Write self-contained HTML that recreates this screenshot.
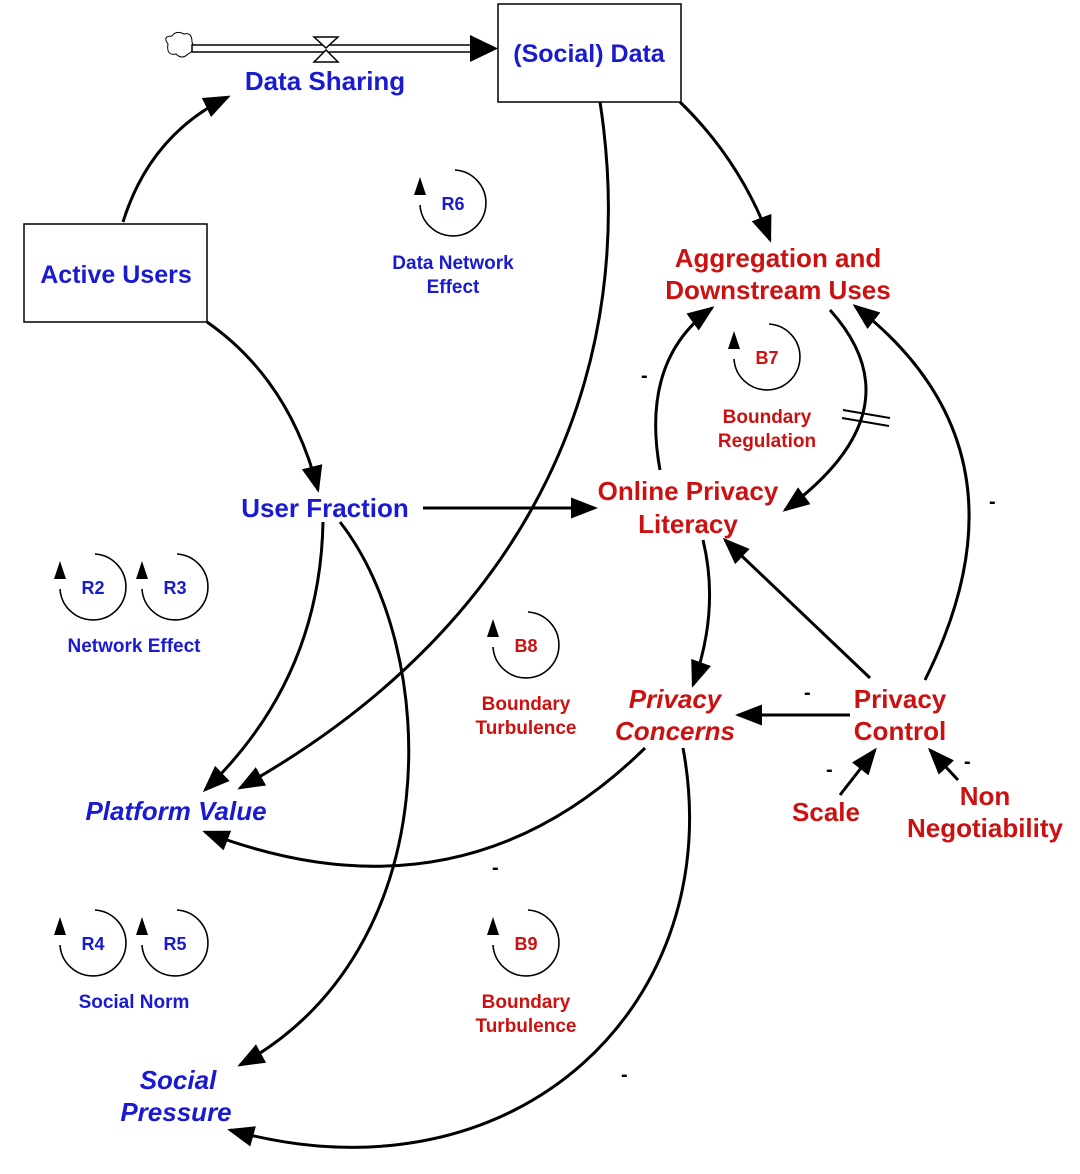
<!DOCTYPE html>
<html><head><meta charset="utf-8"><style>
html,body{margin:0;padding:0;background:#fff}
svg{display:block}
.b{fill:#1a1ad0;font-family:"Liberation Sans",sans-serif;font-weight:bold}
.r{fill:#cc1111;font-family:"Liberation Sans",sans-serif;font-weight:bold}
.ln{fill:none;stroke:#000;stroke-width:3;marker-end:url(#ah)}
.m{font-family:"Liberation Sans",sans-serif;font-weight:bold;font-size:20px;fill:#000}
</style></head><body>
<svg width="1080" height="1174" viewBox="0 0 1080 1174" xmlns="http://www.w3.org/2000/svg">
<defs>
<marker id="ah" markerWidth="9" markerHeight="7" refX="8" refY="3.5" orient="auto" markerUnits="strokeWidth">
<path d="M0,0 L9,3.5 L0,7 z" fill="#000"/></marker>
<g id="loop"><path d="M2,-33 A33,33 0 1 1 -33,2" fill="none" stroke="#000" stroke-width="1.6"/><path d="M-33,-26 L-39,-8 L-27,-8 z" fill="#000"/></g>
</defs>
<path d="M168,44 q-6,-8 4,-8 q4,-6 12,-2 q8,-2 8,8 q4,8 -4,12 q-6,6 -12,0 q-10,2 -8,-10z" fill="#fff" stroke="#000" stroke-width="1"/>
<rect x="192" y="45" width="280" height="7" fill="#fff" stroke="#000" stroke-width="1.5"/>
<path d="M470,35 L498,48.5 L470,62 z" fill="#000"/>
<path d="M314,37 L338,37 L326,48 z M314,62 L338,62 L326,50 z" fill="#fff" stroke="#000" stroke-width="1.5"/>
<text x="325" y="90" class="b" font-size="26" text-anchor="middle">Data Sharing</text>
<rect x="498" y="4" width="183" height="98" fill="#fff" stroke="#000" stroke-width="1.5"/>
<text x="589" y="62" class="b" font-size="25" text-anchor="middle">(Social) Data</text>
<rect x="24" y="224" width="183" height="98" fill="#fff" stroke="#000" stroke-width="1.5"/>
<text x="116" y="283" class="b" font-size="25" text-anchor="middle">Active Users</text>

<path class="ln" d="M123,222 Q150,135 228,97"/>
<path class="ln" d="M207,322 Q290,380 318,490"/>
<path class="ln" d="M600,102 C640,360 540,620 240,788"/>
<path class="ln" d="M680,102 Q740,160 770,240"/>
<path class="ln" d="M423,508 L595,508"/>
<path class="ln" d="M323,522 Q320,680 205,790"/>
<path class="ln" d="M340,522 C440,650 450,950 240,1065"/>
<path class="ln" d="M660,470 Q640,360 712,308"/>
<path class="ln" d="M830,310 Q920,410 785,510"/>
<path d="M843,410 L890,418 M842,418 L889,426" stroke="#000" stroke-width="2"/>
<path class="ln" d="M925,680 Q1040,450 855,306"/>
<path class="ln" d="M703,540 Q720,610 693,685"/>
<path class="ln" d="M870,678 L725,540"/>
<path class="ln" d="M850,715 L738,715"/>
<path class="ln" d="M840,795 L875,750"/>
<path class="ln" d="M958,780 L930,750"/>
<path class="ln" d="M645,748 Q460,930 205,832"/>
<path class="ln" d="M683,748 C730,1000 520,1210 230,1130"/>

<g class="m"><text x="641" y="382">-</text><text x="989" y="508">-</text><text x="804" y="699">-</text><text x="826" y="776">-</text><text x="964" y="768">-</text><text x="492" y="874">-</text><text x="621" y="1081">-</text></g>

<use href="#loop" x="453" y="203"/><text x="453" y="210" class="b" font-size="18" text-anchor="middle">R6</text>
<text x="453" y="269" class="b" font-size="19" text-anchor="middle">Data Network</text>
<text x="453" y="293" class="b" font-size="19" text-anchor="middle">Effect</text>
<use href="#loop" x="767" y="357"/><text x="767" y="364" class="r" font-size="18" text-anchor="middle">B7</text>
<text x="767" y="423" class="r" font-size="19" text-anchor="middle">Boundary</text>
<text x="767" y="447" class="r" font-size="19" text-anchor="middle">Regulation</text>
<use href="#loop" x="93" y="587"/><text x="93" y="594" class="b" font-size="18" text-anchor="middle">R2</text>
<use href="#loop" x="175" y="587"/><text x="175" y="594" class="b" font-size="18" text-anchor="middle">R3</text>
<text x="134" y="652" class="b" font-size="19" text-anchor="middle">Network Effect</text>
<use href="#loop" x="526" y="645"/><text x="526" y="652" class="r" font-size="18" text-anchor="middle">B8</text>
<text x="526" y="710" class="r" font-size="19" text-anchor="middle">Boundary</text>
<text x="526" y="734" class="r" font-size="19" text-anchor="middle">Turbulence</text>
<use href="#loop" x="93" y="943"/><text x="93" y="950" class="b" font-size="18" text-anchor="middle">R4</text>
<use href="#loop" x="175" y="943"/><text x="175" y="950" class="b" font-size="18" text-anchor="middle">R5</text>
<text x="134" y="1008" class="b" font-size="19" text-anchor="middle">Social Norm</text>
<use href="#loop" x="526" y="943"/><text x="526" y="950" class="r" font-size="18" text-anchor="middle">B9</text>
<text x="526" y="1008" class="r" font-size="19" text-anchor="middle">Boundary</text>
<text x="526" y="1032" class="r" font-size="19" text-anchor="middle">Turbulence</text>

<text x="778" y="267" class="r" font-size="26" text-anchor="middle">Aggregation and</text>
<text x="778" y="299" class="r" font-size="26" text-anchor="middle">Downstream Uses</text>
<text x="325" y="517" class="b" font-size="26" text-anchor="middle">User Fraction</text>
<text x="688" y="500" class="r" font-size="26" text-anchor="middle">Online Privacy</text>
<text x="688" y="533" class="r" font-size="26" text-anchor="middle">Literacy</text>
<text x="675" y="708" class="r" font-size="26" text-anchor="middle" font-style="italic">Privacy</text>
<text x="675" y="740" class="r" font-size="26" text-anchor="middle" font-style="italic">Concerns</text>
<text x="900" y="708" class="r" font-size="26" text-anchor="middle">Privacy</text>
<text x="900" y="740" class="r" font-size="26" text-anchor="middle">Control</text>
<text x="826" y="821" class="r" font-size="26" text-anchor="middle">Scale</text>
<text x="985" y="805" class="r" font-size="26" text-anchor="middle">Non</text>
<text x="985" y="837" class="r" font-size="26" text-anchor="middle">Negotiability</text>
<text x="176" y="820" class="b" font-size="26" text-anchor="middle" font-style="italic">Platform Value</text>
<text x="178" y="1089" class="b" font-size="26" text-anchor="middle" font-style="italic">Social</text>
<text x="176" y="1121" class="b" font-size="26" text-anchor="middle" font-style="italic">Pressure</text>
</svg>
</body></html>
